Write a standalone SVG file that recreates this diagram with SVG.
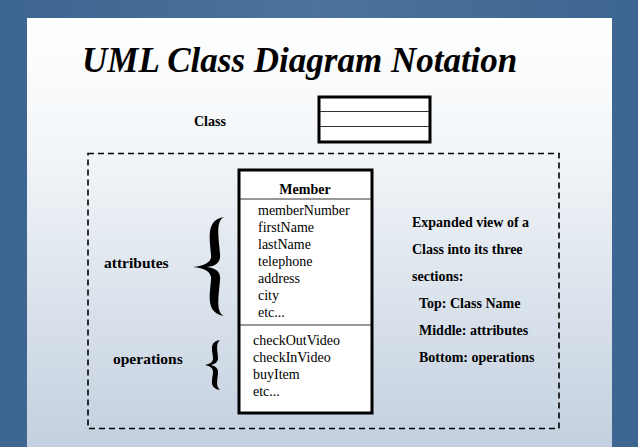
<svg xmlns="http://www.w3.org/2000/svg" width="638" height="447" viewBox="0 0 638 447">
<defs>
<linearGradient id="bg" x1="0" y1="0" x2="0" y2="1"><stop offset="0" stop-color="#ffffff"/><stop offset="0.3" stop-color="#f3f6f9"/><stop offset="1" stop-color="#c3d0df"/></linearGradient>
<linearGradient id="fr" x1="0" y1="0" x2="1" y2="0"><stop offset="0" stop-color="#3d6591"/><stop offset="0.5" stop-color="#4d739c"/><stop offset="1" stop-color="#3d6591"/></linearGradient>
</defs>
<style>
.b{font-family:"Liberation Serif",serif;font-weight:bold;font-size:14px;fill:#000}
.r{font-family:"Liberation Serif",serif;font-size:14px;fill:#000}
.box{fill:#fff;stroke:#000;stroke-width:3}
.ln{stroke:#333;stroke-width:1.2}
</style>
<rect width="638" height="447" fill="url(#fr)"/>
<rect x="27" y="18" width="585" height="429" fill="url(#bg)"/>
<text x="82" y="72" font-family="Liberation Serif,serif" font-weight="bold" font-style="italic" font-size="35">UML Class Diagram Notation</text>
<g id="class-icon">
<text class="b" x="194" y="126">Class</text>
<rect x="319" y="97" width="111" height="45" class="box"/>
<line x1="320" y1="111.5" x2="429" y2="111.5" class="ln"/>
<line x1="320" y1="126.5" x2="429" y2="126.5" class="ln"/>
</g>
<rect id="frame" x="88" y="153.5" width="471" height="275" fill="none" stroke="#000" stroke-width="1.6" stroke-dasharray="6,4"/>
<g id="member">
<rect x="239" y="170" width="133" height="243" class="box"/>
<line x1="240" y1="199" x2="371" y2="199" class="ln"/>
<line x1="240" y1="325" x2="371" y2="325" class="ln"/>
<text class="b" x="305" y="194" text-anchor="middle">Member</text>
<g class="r">
<text x="258" y="215">memberNumber</text>
<text x="258" y="232">firstName</text>
<text x="258" y="249">lastName</text>
<text x="258" y="266">telephone</text>
<text x="258" y="283">address</text>
<text x="258" y="300">city</text>
<text x="258" y="317">etc...</text>
<text x="253" y="345">checkOutVideo</text>
<text x="253" y="362">checkInVideo</text>
<text x="253" y="379">buyItem</text>
<text x="253" y="396">etc...</text>
</g>
</g>
<g id="attributes">
<text class="b" x="104" y="268" style="font-size:15.5px">attributes</text>
<path d="M224,217 C205,220 210,240 211,255 C212,262 205,266 193,267 C205,268 212,272 211,280 C210,294 205,313 224,316 C215,312 219,294 220,280 C221,272 216,268 207,267 C216,266 221,262 220,254 C219,240 215,221 224,217 Z" fill="#000"/>
</g>
<g id="operations">
<text class="b" x="113" y="364" style="font-size:15.5px">operations</text>
<path d="M220,340 C208,342 213,352 213,358 C213,362 210,364 205,365 C210,366 213,368 213,372 C213,378 208,388 220,390 C215,386 218,378 218,372 C218,368 215,366 211,365 C215,364 218,362 218,358 C218,352 215,344 220,340 Z" fill="#000"/>
</g>
<g id="notes" class="b">
<text x="412" y="227">Expanded view of a</text>
<text x="412" y="254">Class into its three</text>
<text x="412" y="281">sections:</text>
<text x="419" y="308">Top: Class Name</text>
<text x="419" y="335">Middle: attributes</text>
<text x="419" y="362">Bottom: operations</text>
</g>
</svg>
